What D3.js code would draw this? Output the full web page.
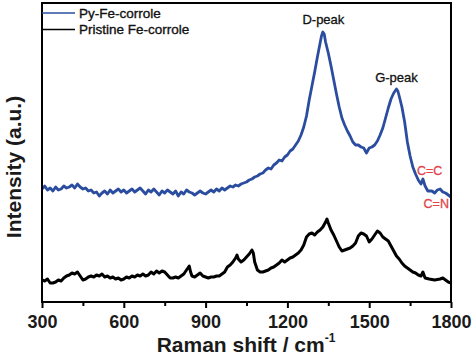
<!DOCTYPE html>
<html><head><meta charset="utf-8">
<script src="https://cdn.jsdelivr.net/npm/d3@7"></script>
<style>body{margin:0;background:#fff}svg{display:block}text{font-family:"Liberation Sans",Arial,sans-serif}</style>
</head><body><svg id="c" width="474" height="355"></svg>
<script>
// Raman shift (cm^-1) and intensity (a.u.)
const pyFeCorrole = [[300,113],[310,116],[320,112],[330,114],[340,111],[350,115],[360,112],[370,113],[380,116],[390,114],[400,115],[410,117],[420,114],[430,118],[440,115],[450,113],[460,114],[470,111],[480,112],[490,109],[500,110],[510,106],[520,109],[530,111],[540,108],[550,112],[560,109],[570,111],[580,113],[590,110],[600,112],[610,109],[620,111],[630,113],[640,110],[650,112],[660,114],[670,111],[680,108],[690,112],[700,110],[710,113],[720,110],[730,107],[740,111],[750,109],[760,112],[770,110],[780,108],[790,111],[800,106],[810,110],[820,108],[830,112],[840,110],[850,109],[860,107],[870,109],[880,111],[890,109],[900,108],[910,110],[920,112],[930,110],[940,113],[950,111],[960,114],[970,112],[980,114],[990,116],[1000,115],[1010,117],[1020,116],[1030,118],[1040,119],[1050,120],[1060,122],[1070,123],[1080,125],[1090,126],[1100,128],[1110,129],[1120,132],[1130,134],[1140,133],[1150,137],[1160,139],[1170,142],[1180,141],[1190,145],[1200,147],[1210,151],[1220,153],[1230,157],[1240,161],[1250,167],[1260,175],[1270,186],[1280,202],[1290,216],[1300,230],[1310,245],[1320,259],[1325,266],[1330,270],[1335,268],[1340,260],[1350,249],[1360,236],[1370,222],[1380,208],[1390,195],[1400,184],[1410,177],[1420,171],[1430,166],[1440,160],[1450,157],[1460,157],[1470,155],[1480,154],[1490,149],[1500,154],[1510,155],[1520,157],[1530,161],[1540,167],[1550,174],[1560,184],[1570,194],[1580,203],[1590,209],[1600,213],[1605,211],[1610,206],[1620,195],[1630,180],[1640,160],[1650,146],[1660,135],[1670,128],[1680,122],[1690,118],[1697,123],[1705,116],[1715,111],[1730,111],[1740,109],[1750,112],[1760,113],[1770,110],[1780,109],[1790,107],[1800,105]];
const pristineFeCorrole = [[300,22],[310,21],[320,23],[330,19],[340,19],[350,20],[360,22],[370,21],[380,24],[390,26],[400,27],[410,29],[420,28],[430,30],[440,26],[450,22],[460,23],[470,25],[480,26],[490,25],[500,27],[510,26],[520,28],[530,25],[540,26],[550,24],[560,25],[570,23],[580,24],[590,22],[600,23],[610,25],[620,24],[630,26],[640,25],[650,27],[660,26],[670,28],[680,26],[690,27],[700,30],[710,28],[720,31],[730,29],[740,31],[750,30],[760,27],[770,24],[780,24],[790,25],[800,24],[810,26],[820,28],[830,32],[840,36],[845,30],[850,26],[860,25],[870,27],[880,29],[890,26],[900,25],[910,24],[920,25],[930,25],[940,26],[950,26],[960,28],[970,30],[980,35],[990,37],[1000,40],[1010,44],[1015,47],[1020,43],[1030,40],[1040,42],[1050,45],[1060,48],[1070,52],[1075,49],[1080,40],[1090,32],[1100,30],[1110,30],[1120,31],[1130,32],[1140,34],[1150,35],[1160,37],[1170,39],[1180,42],[1190,40],[1200,42],[1210,44],[1220,45],[1230,47],[1240,49],[1250,52],[1260,57],[1270,65],[1280,68],[1290,69],[1300,67],[1310,70],[1320,72],[1330,75],[1340,80],[1345,83],[1350,79],[1360,72],[1370,67],[1380,61],[1390,55],[1400,51],[1410,52],[1420,53],[1430,54],[1440,56],[1450,59],[1460,66],[1470,69],[1480,68],[1490,66],[1500,60],[1510,63],[1520,67],[1530,71],[1540,69],[1550,65],[1560,63],[1570,61],[1580,56],[1590,51],[1600,46],[1610,43],[1620,39],[1630,36],[1640,34],[1650,32],[1660,30],[1670,29],[1680,27],[1690,26],[1697,30],[1705,24],[1720,23],[1740,22],[1760,23],[1770,24],[1780,22],[1790,20],[1800,19]];
const majorTicks = [300,600,900,1200,1500,1800];
const minorTicks = [450,750,1050,1350,1650];
const seriesNames = ["Py-Fe-corrole","Pristine Fe-corrole"];
const seriesColors = ["#2b4d9f","#000000"];
const peakLabels = [{t:"D-peak",x:1332,y:278,c:"#111"},{t:"G-peak",x:1600,y:220,c:"#111"},{t:"C=C",x:1722,y:127,c:"#e2434b"},{t:"C=N",x:1746,y:94,c:"#e2434b"}];

const L=42,R=451,T=3,B=302;
const svg=d3.select("#c");
const x=d3.scaleLinear().domain([300,1800]).range([L,R]);
const y=d3.scaleLinear().domain([0,299]).range([B,T]);

svg.append("clipPath").attr("id","clip").append("rect").attr("x",L).attr("y",T).attr("width",R-L).attr("height",B-T);
const line=d3.line().x(d=>x(d[0])).y(d=>y(d[1]));
const g=svg.append("g").attr("clip-path","url(#clip)");
g.append("path").datum(pristineFeCorrole).attr("d",line).attr("fill","none").attr("stroke",seriesColors[1]).attr("stroke-width",3).attr("stroke-linejoin","round");
g.append("path").datum(pyFeCorrole).attr("d",line).attr("fill","none").attr("stroke",seriesColors[0]).attr("stroke-width",2.8).attr("stroke-linejoin","round");

// axes
const ax=svg.append("g").attr("transform",`translate(0,${B})`).call(d3.axisBottom(x).tickValues(majorTicks).tickSize(6).tickSizeOuter(0).tickFormat(d3.format("d")));
ax.select(".domain").remove();
ax.selectAll("line").attr("stroke","#000").attr("stroke-width",2);
ax.selectAll("text").attr("font-size",18).attr("font-weight","bold").attr("fill","#1a1a1a").attr("dy",null).attr("y",26);
const ax2=svg.append("g").attr("transform",`translate(0,${B})`).call(d3.axisBottom(x).tickValues(minorTicks).tickSize(4).tickSizeOuter(0).tickFormat(""));
ax2.select(".domain").remove();
ax2.selectAll("line").attr("stroke","#000").attr("stroke-width",2);

svg.append("rect").attr("x",L).attr("y",T).attr("width",R-L).attr("height",B-T).attr("fill","none").attr("stroke","#000").attr("stroke-width",2);

// titles
const xt=svg.append("text").attr("x",246).attr("y",352).attr("text-anchor","middle").attr("font-size",21).attr("font-weight","bold").attr("fill","#1a1a1a");
xt.append("tspan").text("Raman shift / cm");
xt.append("tspan").text("-1").attr("font-size",12).attr("dy",-10);
svg.append("text").attr("transform","translate(21,167) rotate(-90)").attr("text-anchor","middle").attr("font-size",21).attr("font-weight","bold").attr("fill","#1a1a1a").text("Intensity (a.u.)");

// legend
seriesNames.forEach((n,i)=>{
  const yy=13+i*16.5;
  svg.append("line").attr("x1",L).attr("x2",75).attr("y1",yy).attr("y2",yy).attr("stroke",seriesColors[i]).attr("stroke-width",1.6);
  svg.append("text").attr("x",79).attr("y",yy+4.5).attr("font-size",13.5).attr("fill","#111").attr("stroke","#111").attr("stroke-width",0.35).text(n);
});

// annotations
peakLabels.forEach(p=>{
  svg.append("text").attr("x",x(p.x)).attr("y",y(p.y)).attr("text-anchor","middle").attr("font-size",p.c==="#111"?13:12.5).attr("fill",p.c).attr("stroke",p.c).attr("stroke-width",0.3).text(p.t);
});
</script></body></html>
